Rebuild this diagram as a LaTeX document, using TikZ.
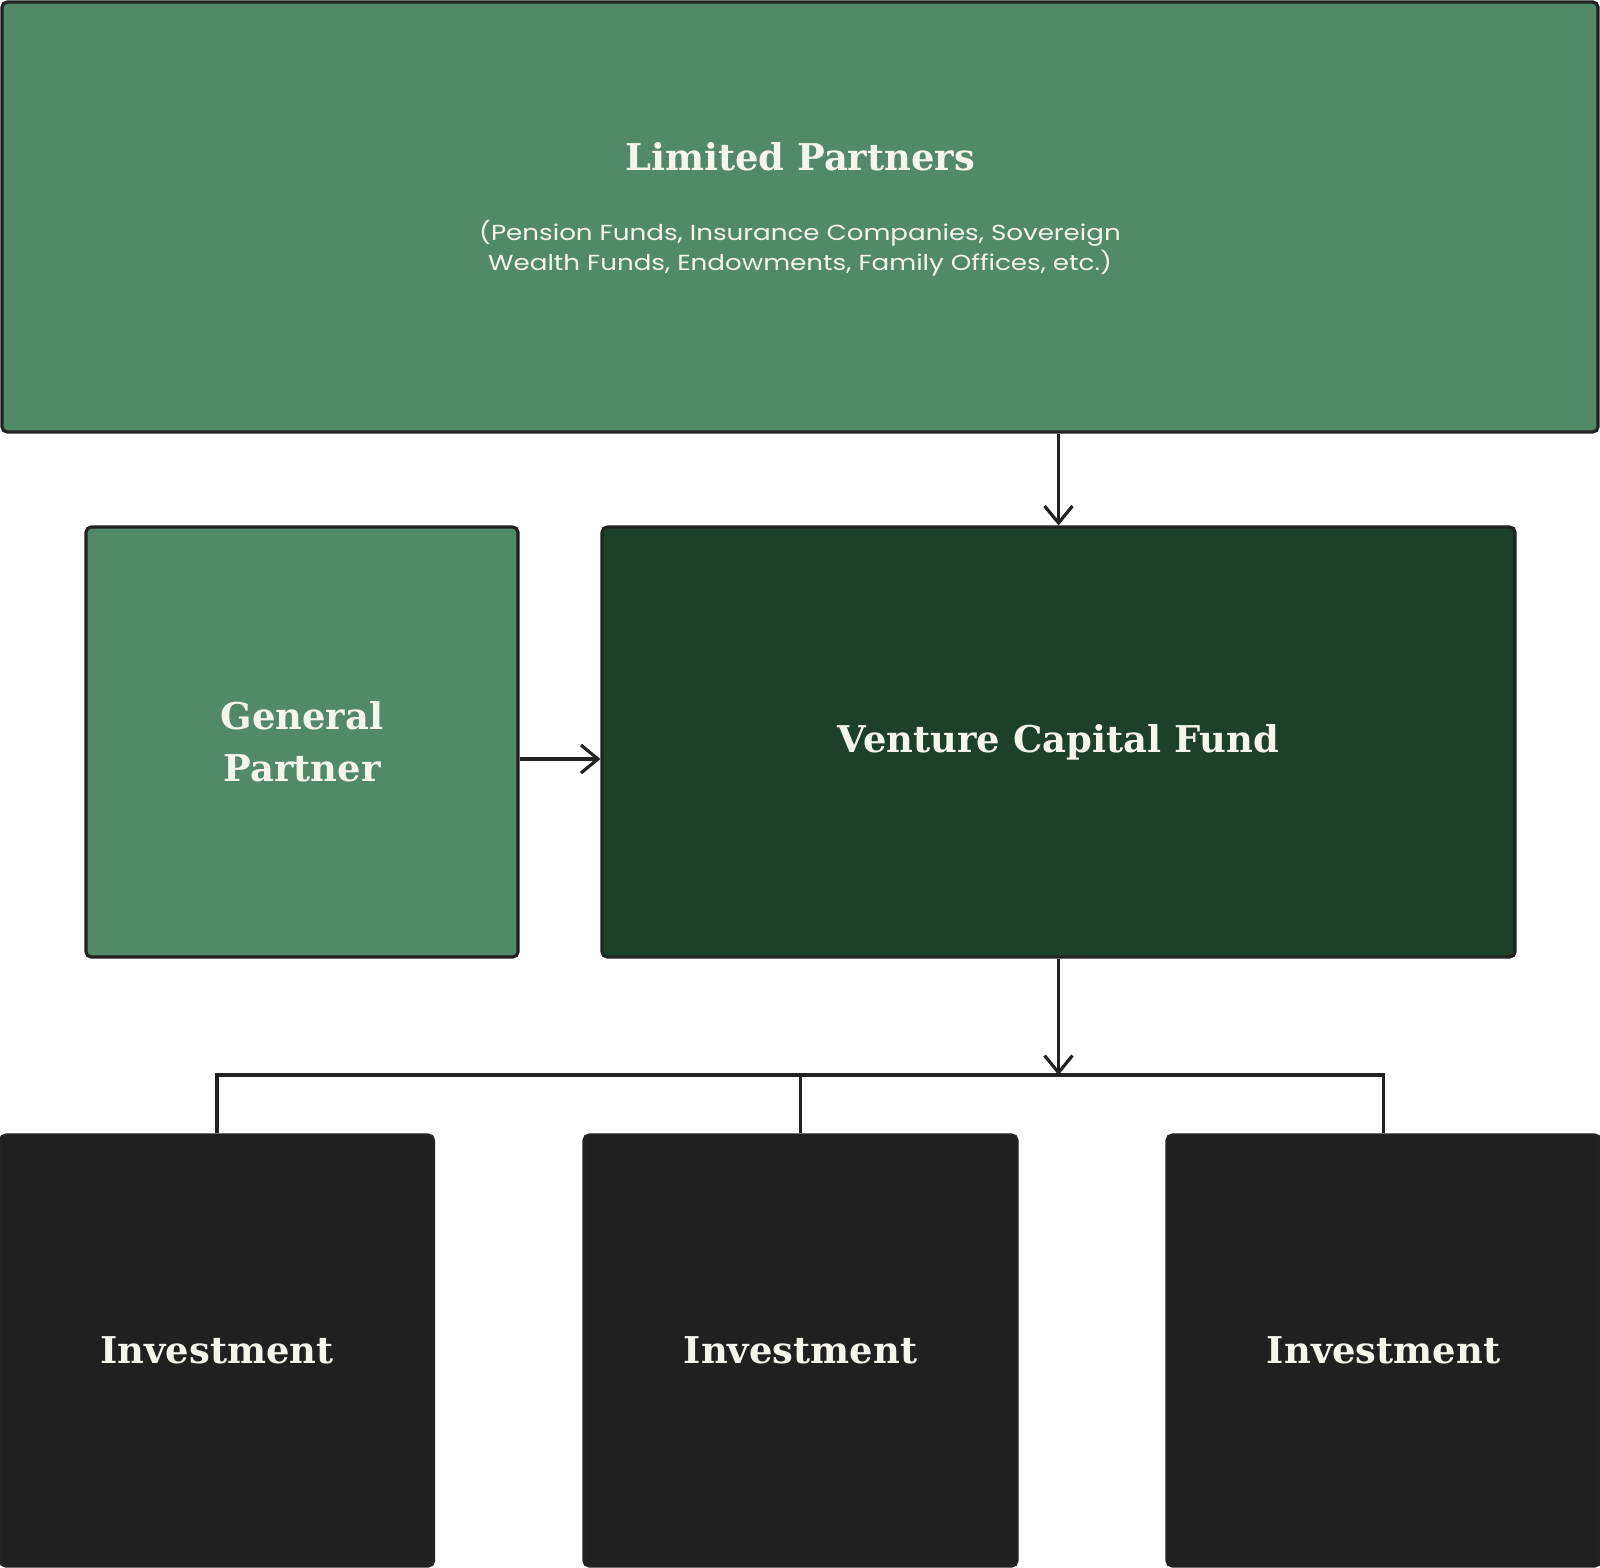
\documentclass[tikz,border=0pt]{standalone}
\usepackage{fontspec}
\usetikzlibrary{arrows.meta}
\newfontfamily\headfont{DejaVu Serif}
\newfontfamily\subfont{Poppins}[FakeStretch=1.2]
\definecolor{col0}{RGB}{82,137,104}
\definecolor{col1}{RGB}{28,64,41}
\definecolor{col2}{RGB}{32,32,32}
\definecolor{linecol}{RGB}{34,34,34}
\definecolor{textcol}{RGB}{246,245,236}

\begin{document}
\begin{tikzpicture}[
		box/.style={draw=linecol,line width=0.9pt,rounded corners=1.5pt,minimum height=4.30cm,text=textcol,align=center,font=\headfont\bfseries\fontsize{10.5}{14.8}\selectfont},
		B0/.style={box,fill=col0},
		B1/.style={box,fill=col1},
		B2/.style={box,fill=col2,minimum width=4.33cm,minimum height=4.31cm},
		txt/.style={text=textcol,align=center},
		link/.style={draw=linecol,line width=0.9pt},
		tip/.style={-{Straight Barb[length=1.7mm,width=2.8mm]}}
	]
	\useasboundingbox (0,0) rectangle (16,-15.67);
	%top box
		\node[B0,minimum width=15.96cm] (LP) at (8,-2.17) {};
		\node[txt,anchor=base,font=\headfont\bfseries\fontsize{10.5}{12}\selectfont] (LPt) at (8,-1.70) {Limited Partners};
		\node[txt,font=\subfont\fontsize{6.2}{8.5}\selectfont] (LPs) at (8,-2.48) {(Pension Funds, Insurance Companies, Sovereign\\Wealth Funds, Endowments, Family Offices, etc.)};
	%middle row
		\node[B0,minimum width=4.32cm] (GP) at (3.02,-7.42) {General\\Partner};
		\node[B1,minimum width=9.13cm] (VCF) at (10.585,-7.42) {Venture Capital Fund};
	%investments
		\foreach \i/\x in {1/2.17, 2/8.005, 3/13.835}
			\node[B2] (inv\i) at (\x,-13.505) {Investment};
	%arrows
		\draw[link,tip] (VCF.north |- LP.south) -- (VCF.north);
		\draw[link,tip] ([yshift=-0.17cm]GP.east) -- ([yshift=-0.17cm]GP.east -| VCF.west);
		\coordinate (bar) at (VCF.south |- 0,-10.75);
		\draw[link,tip] (VCF.south) -- (bar);
		\draw[link] (inv1.north) -- (inv1.north |- bar) -- (inv3.north |- bar) -- (inv3.north);
		\draw[link] (inv2.north) -- (inv2.north |- bar);
	\end{tikzpicture}
\end{document}
